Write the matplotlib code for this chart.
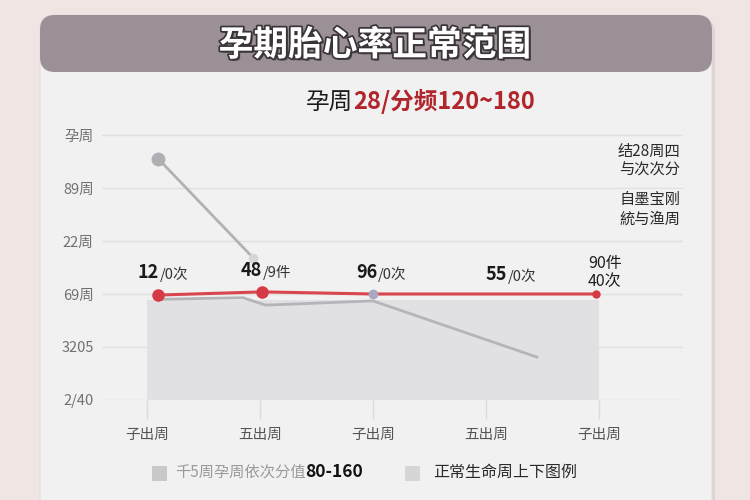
import matplotlib
matplotlib.use("Agg")
import matplotlib.pyplot as plt
import matplotlib.patheffects as pe
from matplotlib.patches import FancyBboxPatch, Rectangle
import numpy as np

plt.rcParams['font.family'] = ['Noto Sans CJK SC', 'DejaVu Sans']

# ---- data ----
title = "孕期胎心率正常范围"
subtitle_black = "孕周"
subtitle_red = "28/分频120~180"
x_labels = ["子出周", "五出周", "子出周", "五出周", "子出周"]
y_ticks = [0, 1, 2, 3, 4, 5]
y_labels = ["2/40", "3205", "69周", "22周", "89周", "孕周"]

red_x = [0.1, 1.02, 2.0, 3.97]
red_y = [1.98, 2.04, 2.0, 2.0]
gray_a_x = [0.1, 0.94]
gray_a_y = [4.55, 2.68]
gray_b_x = [0.1, 0.85, 1.05, 2.0, 3.45]
gray_b_y = [1.90, 1.93, 1.79, 1.87, 0.81]
band_x = [0, 4]
band_top = [1.88, 1.88]

point_num = ["12", "48", "96", "55"]
point_rest = ["/0次", "/9件", "/0次", "/0次"]
point_label_x = [-0.08, 0.83, 1.85, 3.0]
point_label_y = [2.3, 2.34, 2.3, 2.26]
last_label = "90件\n40次"
last_label_x = 4.05
last_label_y = 2.4

right_note_1 = "结28周四\n与次次分"
right_note_2 = "自墨宝刚\n統与渔周"
legend_1_gray = "千5周孕周依次分值"
legend_1_bold = "80-160"
legend_2 = "正常生命周上下图例"

W, H = 7.5, 5.0
fig = plt.figure(figsize=(W, H), dpi=100)
fig.patch.set_facecolor('#efe6e4')

def px(x, y):
    return (x / 100.0, (500 - y) / 100.0)

tr = fig.dpi_scale_trans
# card shadow + card
shadow = FancyBboxPatch(px(43, 520), 6.72, 5.02, boxstyle="round,pad=0,rounding_size=0.15",
                        transform=tr, facecolor='#dcd5d4', edgecolor='none', zorder=0)
fig.add_artist(shadow)
card = FancyBboxPatch(px(40, 520), 6.72, 5.05, boxstyle="round,pad=0,rounding_size=0.15",
                      transform=tr, facecolor='#f1f1f1', edgecolor='#e2dcdb', lw=0.8, zorder=0)
fig.add_artist(card)
banner = FancyBboxPatch(px(40, 72), 6.72, 0.57, boxstyle="round,pad=0,rounding_size=0.15",
                        transform=tr, facecolor='#9b8f98', edgecolor='none', zorder=1)
fig.add_artist(banner)

fig.text(375 / 750, 1 - 45 / 500, title, ha='center', va='center', fontsize=25,
         fontweight='bold', color='white', zorder=3,
         path_effects=[pe.withSimplePatchShadow(offset=(1.5, -1.5), shadow_rgbFace='#333333', alpha=0.8),
                       pe.Stroke(linewidth=2.5, foreground='#3a3438'), pe.Normal()])

ax = fig.add_axes([102 / 750, 0.2, (683 - 102) / 750, (400 - 125) / 500])
ax.set_facecolor('none')
ax.set_xlim(-45 / 113, (683 - 147) / 113)
ax.set_ylim(0, (400 - 125) / 53)

t1 = fig.text(306 / 750, 1 - 103 / 500, subtitle_black, ha='left', va='center',
              fontsize=17, color='#1a1a1a')
ax.annotate(subtitle_red, xy=(1, 0), xycoords=t1, ha='left', va='bottom',
            fontsize=17, color='#b0262c', fontweight='semibold', annotation_clip=False)

ax.fill_between(band_x, 0, band_top, color='#e1e0e3', zorder=1, lw=0)
ax.plot(gray_a_x, gray_a_y, color='#b2b2b6', lw=2, zorder=3)
ax.plot(gray_a_x[:1], gray_a_y[:1], 'o', color='#b0b0b4', ms=9, zorder=4)
ax.plot(gray_a_x[1:], gray_a_y[1:], 'o', color='#d6d6da', ms=6, zorder=4)
ax.plot(gray_b_x, gray_b_y, color='#b4b4ba', lw=2, zorder=3)
ax.plot(red_x, red_y, color='#d9464e', lw=2.2, zorder=5)
ax.plot(red_x[:2], red_y[:2], 'o', color='#d63a44', ms=8, zorder=6)
ax.plot([2.0], [2.0], 'o', color='#a8a8c0', ms=6, zorder=6)
ax.plot(red_x[3:], red_y[3:], 'o', color='#d63a44', ms=5, zorder=6)

for num, rest, xx, yy in zip(point_num, point_rest, point_label_x, point_label_y):
    tn = ax.text(xx, yy, num, ha='left', va='baseline', fontsize=13, color='#1a1a1a',
                 fontweight='bold', zorder=7)
    ax.annotate(rest, xy=(1, 0), xycoords=tn, xytext=(0.5, 0), textcoords='offset points',
                ha='left', va='bottom', fontsize=10.5, color='#333333', zorder=7)
ax.text(last_label_x, last_label_y, last_label, ha='center', va='center', fontsize=11.5,
        color='#1e1e1e', linespacing=1.1, zorder=7)

ax.set_yticks(y_ticks)
ax.set_yticklabels(y_labels)
ax.set_xticks(range(len(x_labels)))
ax.set_xticklabels(x_labels)
ax.grid(axis='y', color='#e0e0e0', lw=1)
ax.grid(axis='x', visible=False)
for sp in ax.spines.values():
    sp.set_visible(False)
ax.tick_params(axis='y', length=0, pad=6, labelsize=10.5, labelcolor='#707070')
ax.tick_params(axis='x', length=14, width=1, color='#dadada', pad=6, labelsize=10.5,
               labelcolor='#555555')

ax.text(0.995, 0.87, right_note_1, transform=ax.transAxes, ha='right', va='center',
        fontsize=11, color='#2a2a2a', linespacing=1.2, zorder=7,
        bbox=dict(facecolor='#f1f1f1', edgecolor='none', pad=1))
ax.text(0.995, 0.695, right_note_2, transform=ax.transAxes, ha='right', va='center',
        fontsize=11, color='#2a2a2a', linespacing=1.2, zorder=7,
        bbox=dict(facecolor='#f1f1f1', edgecolor='none', pad=1))

# legend
fig.add_artist(Rectangle(px(152, 481), 0.15, 0.15, transform=tr, facecolor='#c8c8ca',
                         edgecolor='none'))
l1 = fig.text(175 / 750, 1 - 472 / 500, legend_1_gray, ha='left', va='center',
              fontsize=11, color='#9a9a9a')
ax.annotate(legend_1_bold, xy=(1, 0.5), xycoords=l1, ha='left', va='center',
            fontsize=12.5, color='#111111', fontweight='bold', annotation_clip=False)
fig.add_artist(Rectangle(px(405, 481), 0.15, 0.15, transform=tr, facecolor='#d6d6d8',
                         edgecolor='none'))
fig.text(433 / 750, 1 - 472 / 500, legend_2, ha='left', va='center',
         fontsize=11.5, color='#2a2a2a')

fig.savefig('out.png', dpi=100, facecolor=fig.get_facecolor())
